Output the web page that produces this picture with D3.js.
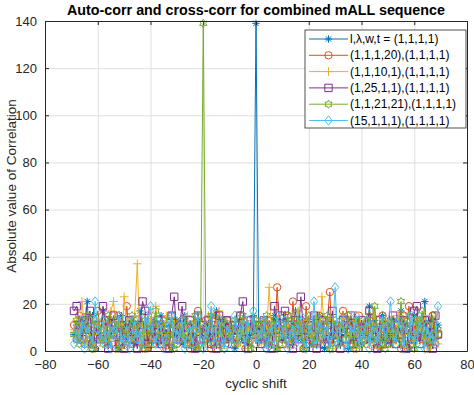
<!DOCTYPE html>
<html>
<head>
<meta charset="utf-8">
<script src="https://cdn.jsdelivr.net/npm/d3@7"></script>
<style>
  body { margin: 0; background: #fff; }
  text { font-family: "Liberation Sans", Arial, Helvetica, sans-serif; fill: #262626; }
  .axis path, .axis line { stroke: #262626; }
  .grid line { stroke: #dfdfdf; }
  .grid path { stroke: none; }
</style>
</head>
<body>
<div id="chart"></div>
<script>
// Data: |correlation| for cyclic shifts -69..69 (139 points per series)

var shifts = d3.range(-69, 70);

var xTicks = [-80, -60, -40, -20, 0, 20, 40, 60, 80];
var yTicks = [0, 20, 40, 60, 80, 100, 120, 140];

var seriesNames = [
  'l,\u03bb,w,t = (1,1,1,1)',
  '(1,1,1,20),(1,1,1,1)',
  '(1,1,10,1),(1,1,1,1)',
  '(1,25,1,1),(1,1,1,1)',
  '(1,1,21,21),(1,1,1,1)',
  '(15,1,1,1),(1,1,1,1)'
];

var seriesColors = ['#0072BD', '#D95319', '#EDB120', '#7E2F8E', '#77AC30', '#4DBEEE'];
var seriesMarkers = ['star', 'circle', 'plus', 'square', 'hexagram', 'diamond'];

var autoCorr = [
  7, 11, 5, 13, 9, 21, 3, 15, 1, 9,
  5, 17, 11, 3, 13, 7, 9, 1, 15, 11,
  5, 9, 13, 3, 7, 17, 11, 5, 1, 9,
  13, 7, 3, 15, 9, 5, 11, 1, 7, 13,
  9, 3, 15, 11, 5, 7, 1, 13, 9, 3,
  11, 5, 15, 7, 17, 9, 3, 13, 5, 11,
  7, 1, 9, 13, 5, 11, 3, 7, 15, 139,
  9, 5, 13, 3, 11, 7, 15, 1, 9, 5,
  13, 7, 3, 11, 17, 5, 9, 1, 13, 7,
  3, 11, 5, 15, 9, 1, 7, 13, 5, 11,
  9, 3, 15, 7, 1, 11, 5, 13, 9, 3,
  11, 7, 19, 5, 13, 9, 1, 15, 7, 11,
  3, 13, 9, 5, 17, 7, 11, 1, 9, 15,
  5, 11, 7, 21, 3, 13, 9, 5, 11
];

var cross1_1_1_20 = [
  11, 5, 15, 9, 3, 13, 7, 1, 11, 17,
  9, 5, 13, 3, 7, 11, 1, 15, 9, 5,
  19, 7, 3, 11, 13, 5, 9, 1, 15, 7,
  3, 11, 9, 5, 13, 1, 7, 15, 11, 3,
  9, 13, 5, 7, 1, 11, 3, 17, 9, 5,
  13, 7, 1, 11, 15, 3, 9, 5, 13, 7,
  11, 3, 9, 15, 5, 1, 13, 7, 11, 3,
  9, 5, 11, 1, 13, 7, 3, 27, 9, 5,
  11, 15, 3, 21, 7, 9, 13, 1, 19, 5,
  11, 7, 3, 15, 9, 5, 13, 25, 1, 11,
  7, 9, 17, 5, 13, 3, 11, 1, 15, 7,
  9, 3, 13, 11, 1, 5, 7, 15, 9, 3,
  13, 5, 11, 7, 1, 15, 9, 19, 3, 11,
  7, 13, 5, 9, 1, 11, 15, 3, 7
];

var cross1_1_10_1 = [
  9, 13, 5, 21, 11, 3, 15, 7, 1, 11,
  5, 13, 9, 3, 17, 21, 7, 11, 1, 23,
  9, 13, 5, 15, 37, 3, 11, 7, 1, 13,
  5, 19, 9, 11, 3, 15, 7, 1, 13, 9,
  5, 11, 7, 15, 3, 9, 13, 1, 7, 11,
  3, 15, 9, 5, 11, 17, 1, 7, 13, 9,
  5, 11, 3, 15, 7, 1, 9, 13, 5, 11,
  7, 3, 13, 9, 27, 5, 11, 1, 15, 7,
  9, 13, 3, 11, 5, 17, 7, 1, 13, 9,
  5, 11, 15, 3, 23, 9, 7, 13, 1, 11,
  5, 9, 15, 3, 11, 7, 13, 1, 9, 5,
  13, 7, 3, 11, 15, 9, 1, 5, 13, 7,
  11, 3, 9, 15, 5, 13, 1, 7, 11, 3,
  9, 13, 5, 15, 7, 1, 11, 9, 3
];

var cross1_25_1_1 = [
  17, 19, 11, 5, 13, 9, 17, 3, 7, 11,
  5, 19, 13, 1, 9, 15, 7, 3, 11, 1,
  9, 13, 5, 7, 1, 11, 21, 17, 3, 9,
  5, 11, 13, 3, 7, 9, 1, 15, 23, 5,
  11, 19, 7, 3, 13, 9, 1, 15, 5, 11,
  7, 13, 3, 9, 1, 15, 11, 5, 13, 7,
  3, 11, 9, 15, 21, 5, 1, 13, 7, 9,
  11, 3, 13, 7, 5, 1, 19, 9, 15, 3,
  17, 7, 11, 1, 13, 5, 23, 9, 3, 11,
  7, 15, 1, 9, 13, 3, 11, 5, 17, 7,
  9, 1, 13, 5, 11, 15, 3, 7, 9, 13,
  5, 11, 17, 7, 9, 1, 13, 3, 11, 5,
  9, 15, 3, 11, 7, 13, 1, 9, 5, 17,
  19, 3, 9, 13, 5, 11, 1, 15, 7
];

var cross1_1_21_21 = [
  7, 13, 3, 11, 9, 15, 5, 1, 13, 9,
  11, 3, 7, 15, 5, 9, 13, 1, 11, 7,
  3, 9, 15, 5, 11, 7, 1, 13, 9, 3,
  11, 17, 5, 9, 13, 3, 7, 15, 1, 11,
  9, 5, 13, 7, 3, 11, 15, 1, 9, 139,
  5, 11, 15, 3, 9, 7, 13, 1, 11, 5,
  9, 13, 3, 7, 15, 11, 5, 1, 9, 13,
  5, 11, 7, 15, 3, 9, 13, 1, 7, 11,
  3, 15, 9, 5, 13, 7, 11, 1, 9, 15,
  7, 3, 13, 9, 5, 11, 15, 1, 7, 13,
  3, 9, 11, 5, 15, 7, 1, 13, 9, 3,
  11, 7, 15, 5, 19, 9, 3, 13, 1, 11,
  7, 13, 5, 9, 21, 3, 11, 15, 7, 1,
  13, 9, 17, 5, 11, 3, 15, 7, 9
];

var cross15_1_1_1 = [
  3, 9, 5, 13, 1, 11, 7, 3, 21, 9,
  5, 13, 3, 9, 1, 11, 7, 15, 3, 5,
  11, 1, 7, 13, 5, 9, 3, 15, 11, 19,
  7, 3, 13, 9, 1, 5, 11, 15, 3, 9,
  5, 13, 1, 7, 11, 3, 9, 15, 5, 1,
  11, 7, 19, 3, 9, 13, 5, 1, 11, 7,
  3, 15, 9, 5, 11, 1, 13, 7, 17, 3,
  9, 5, 13, 1, 7, 11, 3, 15, 9, 5,
  13, 1, 7, 11, 3, 9, 15, 5, 1, 11,
  7, 21, 3, 13, 9, 5, 11, 1, 7, 27,
  3, 9, 13, 5, 1, 11, 7, 15, 3, 9,
  5, 13, 1, 11, 7, 3, 9, 15, 5, 11,
  21, 7, 3, 13, 9, 1, 11, 5, 15, 7,
  3, 13, 9, 1, 11, 5, 7, 3, 19
];

var seriesValues = [autoCorr, cross1_1_1_20, cross1_1_10_1, cross1_25_1_1, cross1_1_21_21, cross15_1_1_1];

var width = 474,
  height = 395;

var margin = {
  top: 21,
  right: 7,
  bottom: 44,
  left: 45
};

var innerWidth = width - margin.left - margin.right,
  innerHeight = height - margin.top - margin.bottom;

var svg = d3.select('#chart')
  .append('svg')
  .attr('width', width)
  .attr('height', height);

var g = svg.append('g')
  .attr('transform', 'translate(' + margin.left + ',' + margin.top + ')');

var xScale = d3.scaleLinear().domain([-80, 80]).range([0, innerWidth]);
var yScale = d3.scaleLinear().domain([0, 140]).range([innerHeight, 0]);

// Grid lines first so everything sits on top of them.

g.append('g')
  .attr('class', 'grid')
  .attr('transform', 'translate(0,' + innerHeight + ')')
  .call(d3.axisBottom(xScale).tickValues(xTicks).tickSize(-innerHeight).tickFormat(''));

g.append('g')
  .attr('class', 'grid')
  .call(d3.axisLeft(yScale).tickValues(yTicks).tickSize(-innerWidth).tickFormat(''));

g.selectAll('.grid text').remove();

// Marker shapes, MATLAB style.

var ms = 3.7;

function markerPath(type) {
  var p = d3.path();
  if (type === 'star') {
    var a = ms * 0.72;
    p.moveTo(-ms, 0); p.lineTo(ms, 0);
    p.moveTo(0, -ms); p.lineTo(0, ms);
    p.moveTo(-a, -a); p.lineTo(a, a);
    p.moveTo(-a, a); p.lineTo(a, -a);
  } else if (type === 'circle') {
    p.moveTo(ms, 0);
    p.arc(0, 0, ms, 0, 2 * Math.PI);
  } else if (type === 'plus') {
    p.moveTo(-ms - 0.6, 0); p.lineTo(ms + 0.6, 0);
    p.moveTo(0, -ms - 0.6); p.lineTo(0, ms + 0.6);
  } else if (type === 'square') {
    p.rect(-ms, -ms, 2 * ms, 2 * ms);
  } else if (type === 'diamond') {
    p.moveTo(0, -ms - 1); p.lineTo(ms, 0); p.lineTo(0, ms + 1); p.lineTo(-ms, 0); p.closePath();
  } else if (type === 'hexagram') {
    var r1 = ms + 0.4, r2 = r1 * 0.577;
    for (var k = 0; k < 12; k++) {
      var ang = -Math.PI / 2 + k * Math.PI / 6;
      var r = k % 2 === 0 ? r1 : r2;
      if (k === 0) p.moveTo(r * Math.cos(ang), r * Math.sin(ang));
      else p.lineTo(r * Math.cos(ang), r * Math.sin(ang));
    }
    p.closePath();
  }
  return p.toString();
}

var line = d3.line()
  .x(function(d) { return xScale(d.x); })
  .y(function(d) { return yScale(d.y); });

var series = seriesValues.map(function(vals, i) {
  return {
    name: seriesNames[i],
    color: seriesColors[i],
    marker: seriesMarkers[i],
    points: shifts.map(function(s, j) { return { x: s, y: vals[j] }; })
  };
});

var plots = g.selectAll('.series')
  .data(series)
  .enter()
  .append('g')
  .attr('class', 'series');

plots.append('path')
  .attr('d', function(d) { return line(d.points); })
  .attr('fill', 'none')
  .attr('stroke', function(d) { return d.color; })
  .attr('stroke-width', 1);

plots.selectAll('.mark')
  .data(function(d) { return d.points.map(function(p) { return { x: p.x, y: p.y, s: d }; }); })
  .enter()
  .append('path')
  .attr('class', 'mark')
  .attr('transform', function(d) { return 'translate(' + xScale(d.x) + ',' + yScale(d.y) + ')'; })
  .attr('d', function(d) { return markerPath(d.s.marker); })
  .attr('fill', 'none')
  .attr('stroke', function(d) { return d.s.color; })
  .attr('stroke-width', 1);

// Axes: ticks point inward on all four sides, box closed.

g.append('g')
  .attr('class', 'axis')
  .attr('transform', 'translate(0,' + innerHeight + ')')
  .call(d3.axisBottom(xScale).tickValues(xTicks).tickSizeInner(-4).tickSizeOuter(0).tickPadding(9));

g.append('g')
  .attr('class', 'axis')
  .call(d3.axisLeft(yScale).tickValues(yTicks).tickSizeInner(-4).tickSizeOuter(0).tickPadding(8));

g.append('g')
  .attr('class', 'axis frame')
  .call(d3.axisTop(xScale).tickValues(xTicks).tickSizeInner(-4).tickSizeOuter(0));

g.append('g')
  .attr('class', 'axis frame')
  .attr('transform', 'translate(' + innerWidth + ',0)')
  .call(d3.axisRight(yScale).tickValues(yTicks).tickSizeInner(-4).tickSizeOuter(0));

// The top and right sides only carry ticks, no labels.
g.selectAll('.frame text').remove();

g.selectAll('.axis text')
  .style('font-size', '13px')
  .style('fill', '#262626');

// Titles.

svg.append('text')
  .attr('x', margin.left + innerWidth / 2)
  .attr('y', 15)
  .attr('text-anchor', 'middle')
  .style('font-size', '14.3px')
  .style('font-weight', 'bold')
  .style('fill', '#000')
  .text('Auto-corr and cross-corr for combined mALL sequence');

svg.append('text')
  .attr('x', margin.left + innerWidth / 2)
  .attr('y', 388)
  .attr('text-anchor', 'middle')
  .style('font-size', '13.5px')
  .text('cyclic shift');

svg.append('text')
  .attr('transform', 'translate(16,' + (margin.top + innerHeight / 2) + ') rotate(-90)')
  .attr('text-anchor', 'middle')
  .style('font-size', '13.5px')
  .text('Absolute value of Correlation');

// Legend box in the upper right corner.

var legendX = 305 - margin.left,
  legendY = 30 - margin.top,
  legendW = 161,
  legendH = 98,
  rowH = 16.3;

var legend = g.append('g')
  .attr('transform', 'translate(' + legendX + ',' + legendY + ')');

legend.append('rect')
  .attr('width', legendW)
  .attr('height', legendH)
  .attr('fill', '#fff')
  .attr('stroke', '#262626')
  .attr('stroke-width', 0.8);

var items = legend.selectAll('.item')
  .data(series)
  .enter()
  .append('g')
  .attr('class', 'item')
  .attr('transform', function(d, i) { return 'translate(0,' + (9 + i * rowH) + ')'; });

items.append('line')
  .attr('x1', 4)
  .attr('x2', 43)
  .attr('stroke', function(d) { return d.color; })
  .attr('stroke-width', 1);

items.append('path')
  .attr('transform', 'translate(23.5,0)')
  .attr('d', function(d) { return markerPath(d.marker); })
  .attr('fill', 'none')
  .attr('stroke', function(d) { return d.color; })
  .attr('stroke-width', 1);

items.append('text')
  .attr('x', 45)
  .attr('y', 4)
  .style('font-size', '12px')
  .style('fill', '#000')
  .text(function(d) { return d.name; });
</script>
</body>
</html>
